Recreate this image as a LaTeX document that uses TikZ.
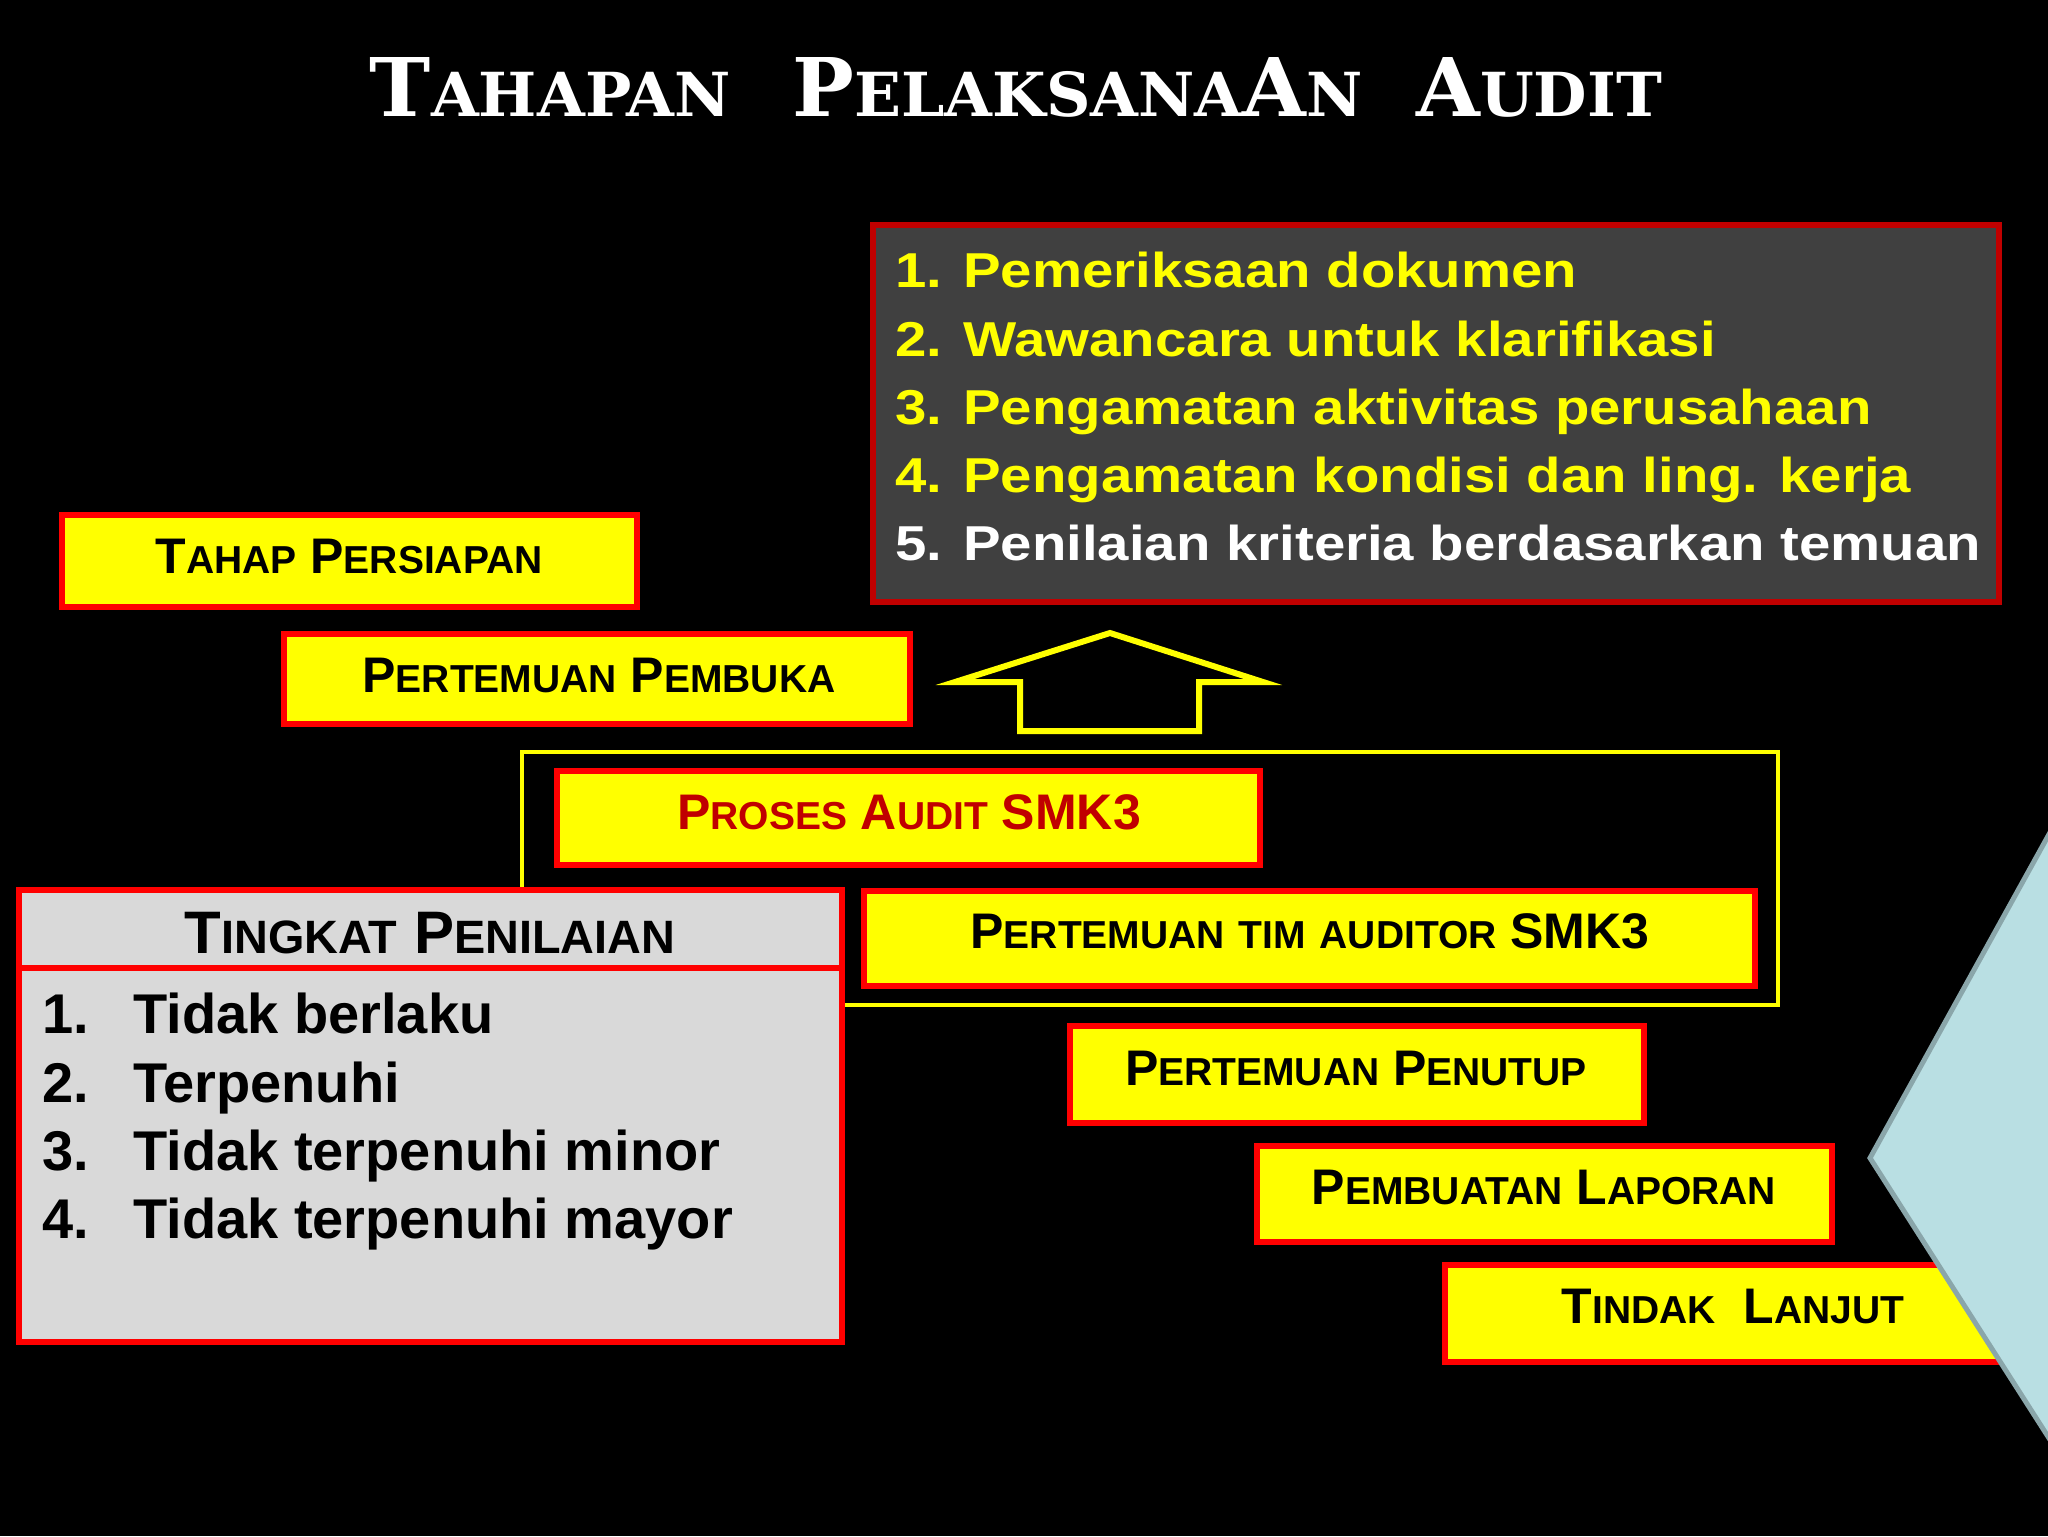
\documentclass[tikz,border=0pt]{standalone}
\usepackage{fontspec}
\usepackage{graphicx}
\setmainfont{Liberation Sans}
\newfontfamily\titlefont{DejaVu Serif}
\newfontfamily\widefont{Liberation Sans}[FakeStretch=1.15]
\newcommand\smc[1]{\scalebox{0.78}{#1}}
\newcommand\tsc[1]{\scalebox{0.75}{#1}}
\definecolor{byel}{HTML}{FFFF00}
\definecolor{bred}{HTML}{FF0000}
\definecolor{dred}{HTML}{C00000}
\definecolor{gbox}{HTML}{404040}
\definecolor{lgray}{HTML}{D9D9D9}
\definecolor{tfill}{HTML}{B9DFE3}
\definecolor{tline}{HTML}{8AA6AA}
\begin{document}
\begin{tikzpicture}[x=0.5pt,y=-0.5pt,
  ybox/.style={draw=bred, line width=3pt, fill=byel},
  lbl/.style={font=\fontsize{25pt}{25pt}\selectfont\bfseries, text=black, anchor=base, inner sep=0pt},
  glist/.style={font=\widefont\bfseries\fontsize{24.5pt}{24.5pt}\selectfont, anchor=base west, inner sep=0pt},
  tlist/.style={font=\bfseries\fontsize{28pt}{28pt}\selectfont, text=black, anchor=base west, inner sep=0pt},
  arrowshape/.style={draw=byel, line width=3pt, line join=miter},
  frame/.style={draw=byel, line width=2.2pt},
  tri/.style={fill=tfill, draw=tline, line width=2.5pt}]
\useasboundingbox (0,0) rectangle (2048,1536);
\fill[black] (0,0) rectangle (2048,1536);
% title
\node[text=white, anchor=base, inner sep=0pt, font=\titlefont\bfseries\fontsize{50pt}{50pt}\selectfont] (title) at (1016,117)
  {\resizebox{646pt}{29.5pt}{T\tsc{AHAPAN}\hspace{0.75em}P\tsc{ELAKSANA}A\tsc{N}\hspace{0.65em}A\tsc{UDIT}}};
% gray box with list
\draw[draw=dred, line width=3pt, fill=gbox] (873,225) rectangle (1999,602);
\node[glist, text=byel] (g1) at (895,287) {1. Pemeriksaan dokumen};
\node[glist, text=byel] (g2) at (895,356) {2. Wawancara untuk klarifikasi};
\node[glist, text=byel] (g3) at (895,424) {3. Pengamatan aktivitas perusahaan};
\node[glist, text=byel] (g4) at (895,492) {4. Pengamatan kondisi dan ling. kerja};
\node[glist, text=white] (g5) at (895,560) {5. Penilaian kriteria berdasarkan temuan};
% steps
\draw[ybox] (62,515) rectangle (637,607);
\node[lbl] (persiapan) at (349,573) {T\smc{AHAP} P\smc{ERSIAPAN}};
\draw[ybox] (284,634) rectangle (910,724);
\node[lbl] (pembuka) at (599,692) {P\smc{ERTEMUAN} P\smc{EMBUKA}};
% arrow
\draw[arrowshape] (1110,633) -- (1263,682) -- (1199,682) -- (1199,731) -- (1020,731) -- (1020,682) -- (955,682) -- cycle;
% yellow frame
\draw[frame] (522,752) rectangle (1778,1005);
\draw[ybox] (557,771) rectangle (1260,865);
\node[lbl, text=dred] (proses) at (909,829) {P\smc{ROSES} A\smc{UDIT} SMK3};
\draw[ybox] (864,891) rectangle (1755,986);
\node[lbl] (timaud) at (1310,948) {P\smc{ERTEMUAN} \smc{TIM} \smc{AUDITOR} SMK3};
% tingkat penilaian
\draw[draw=bred, line width=3pt, fill=lgray] (19,968) rectangle (842,1342);
\draw[draw=bred, line width=3pt, fill=lgray] (19,890) rectangle (842,968);
\node[lbl, font=\fontsize{30pt}{30pt}\selectfont\bfseries] (tingkat) at (430,953) {T\smc{INGKAT} P\smc{ENILAIAN}};
\node[tlist] (n1) at (42,1033) {1.};
\node[tlist] (t1) at (133,1033) {Tidak berlaku};
\node[tlist] (n2) at (42,1102) {2.};
\node[tlist] (t2) at (133,1102) {Terpenuhi};
\node[tlist] (n3) at (42,1170) {3.};
\node[tlist] (t3) at (133,1170) {Tidak terpenuhi minor};
\node[tlist] (n4) at (42,1238) {4.};
\node[tlist] (t4) at (133,1238) {Tidak terpenuhi mayor};
% remaining steps
\draw[ybox] (1070,1026) rectangle (1644,1123);
\node[lbl] (penutup) at (1356,1085) {P\smc{ERTEMUAN} P\smc{ENUTUP}};
\draw[ybox] (1257,1146) rectangle (1832,1242);
\node[lbl] (laporan) at (1544,1204) {P\smc{EMBUATAN} L\smc{APORAN}};
\draw[ybox] (1445,1265) rectangle (2010,1362);
\node[lbl] (tindak) at (1733,1323) {T\smc{INDAK}\ \ L\smc{ANJUT}};
% light blue shape
\begin{scope}
\clip (0,0) rectangle (2048,1536);
\draw[tri] (2100,742) -- (1870,1158) -- (2100,1518) -- cycle;
\end{scope}
\end{tikzpicture}
\end{document}
